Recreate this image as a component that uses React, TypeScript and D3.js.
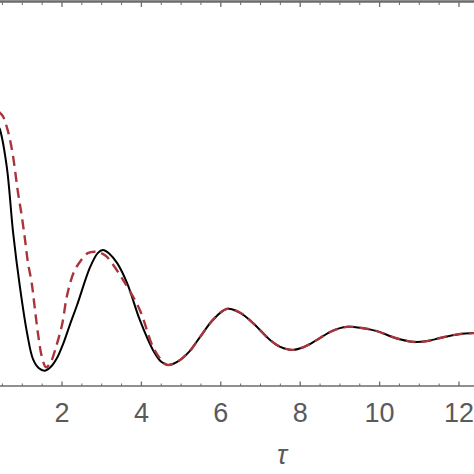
import React from "react";
import * as d3 from "d3";

const tauBlack = [0.42, 0.44, 0.61, 0.77, 0.94, 1.12, 1.27, 1.42, 1.57, 1.72, 1.87, 2.03, 2.2, 2.38, 2.71, 2.9, 3.03, 3.2, 3.39, 3.64, 3.96, 4.29, 4.5, 4.67, 4.9, 5.2, 5.48, 5.8, 6.16, 6.5, 6.81, 7.24, 7.5, 7.82, 8.1, 8.42, 8.8, 9.18, 9.55, 9.93, 10.4, 10.84, 11.2, 11.52, 12.0, 12.45];
const valBlack = [0.672, 0.667, 0.57, 0.398, 0.258, 0.138, 0.07, 0.046, 0.04, 0.05, 0.072, 0.11, 0.16, 0.211, 0.31, 0.346, 0.354, 0.344, 0.32, 0.268, 0.172, 0.094, 0.063, 0.055, 0.063, 0.089, 0.128, 0.172, 0.201, 0.19, 0.164, 0.12, 0.102, 0.094, 0.102, 0.12, 0.143, 0.154, 0.151, 0.143, 0.125, 0.115, 0.117, 0.125, 0.135, 0.138];

const tauRed = [0.4, 0.44, 0.51, 0.63, 0.75, 0.89, 0.99, 1.07, 1.14, 1.24, 1.32, 1.4, 1.5, 1.6, 1.72, 1.85, 2.0, 2.13, 2.3, 2.45, 2.65, 2.9, 3.1, 3.2, 3.54, 3.96, 4.29, 4.5, 4.64, 4.9, 5.2, 5.48, 5.8, 6.16, 6.5, 6.81, 7.24, 7.5, 7.82, 8.1, 8.42, 8.8, 9.18, 9.55, 9.93, 10.4, 10.84, 11.2, 11.52, 12.0, 12.45];
const valRed = [0.716, 0.711, 0.703, 0.667, 0.609, 0.505, 0.44, 0.38, 0.323, 0.266, 0.198, 0.133, 0.073, 0.049, 0.063, 0.102, 0.159, 0.237, 0.297, 0.323, 0.346, 0.349, 0.339, 0.328, 0.276, 0.198, 0.102, 0.068, 0.055, 0.063, 0.089, 0.128, 0.172, 0.201, 0.19, 0.164, 0.12, 0.102, 0.094, 0.102, 0.12, 0.143, 0.154, 0.151, 0.143, 0.125, 0.115, 0.117, 0.125, 0.135, 0.138];

const majorTicks = [2, 4, 6, 8, 10, 12];
const xLabel = "τ";

export default function App() {
  const W = 474, H = 474;
  const x = d3.scaleLinear().domain([2, 12]).range([62, 459]);
  const y = d3.scaleLinear().domain([0, 1]).range([386, 2]);
  const minorTicks = d3.range(0, 12.6, 0.5).filter((t) => !majorTicks.includes(t));
  const line = d3
    .line<[number, number]>()
    .x((d) => x(d[0]))
    .y((d) => y(d[1]))
    .curve(d3.curveCatmullRom.alpha(0.5));
  const black = tauBlack.map((t, i) => [t, valBlack[i]] as [number, number]);
  const red = tauRed.map((t, i) => [t, valRed[i]] as [number, number]);
  const axisColor = "#6b6b6b";
  const yBottom = y(0);
  const yTop = 1.5;
  return (
    <svg width={W} height={H} style={{ position: "absolute", left: 0, top: 0, background: "#fff" }}>
      <rect x={0} y={0} width={W} height={H} fill="#fff" />
      <line x1={0} x2={W} y1={yTop} y2={yTop} stroke={axisColor} strokeWidth={2.6} />
      {majorTicks.map((t) => (
        <line key={"tm" + t} x1={x(t)} x2={x(t)} y1={yTop} y2={yTop + 5.5} stroke={axisColor} strokeWidth={1.3} />
      ))}
      {minorTicks.map((t) => (
        <line key={"tn" + t} x1={x(t)} x2={x(t)} y1={yTop} y2={yTop + 3.5} stroke={axisColor} strokeWidth={1} />
      ))}
      <line x1={0} x2={W} y1={yBottom} y2={yBottom} stroke={axisColor} strokeWidth={1.6} />
      {majorTicks.map((t) => (
        <line key={"bm" + t} x1={x(t)} x2={x(t)} y1={yBottom} y2={yBottom - 4.5} stroke={axisColor} strokeWidth={1.3} />
      ))}
      {minorTicks.map((t) => (
        <line key={"bn" + t} x1={x(t)} x2={x(t)} y1={yBottom} y2={yBottom - 2.5} stroke={axisColor} strokeWidth={1} />
      ))}
      {majorTicks.map((t) => (
        <text
          key={"lb" + t}
          x={x(t)}
          y={421.5}
          textAnchor="middle"
          fontFamily="Liberation Sans, Arial, sans-serif"
          fontSize={27}
          fill="#5a5a5a"
        >
          {t}
        </text>
      ))}
      <text
        x={282}
        y={464}
        textAnchor="middle"
        fontFamily="Liberation Sans, Arial, sans-serif"
        fontStyle="italic"
        fontSize={27}
        fill="#5a5a5a"
      >
        {xLabel}
      </text>
      <path d={line(black) || ""} fill="none" stroke="#000" strokeWidth={2} />
      <path d={line(red) || ""} fill="none" stroke="#a8353b" strokeWidth={2.4} strokeDasharray="10,6" />
    </svg>
  );
}
